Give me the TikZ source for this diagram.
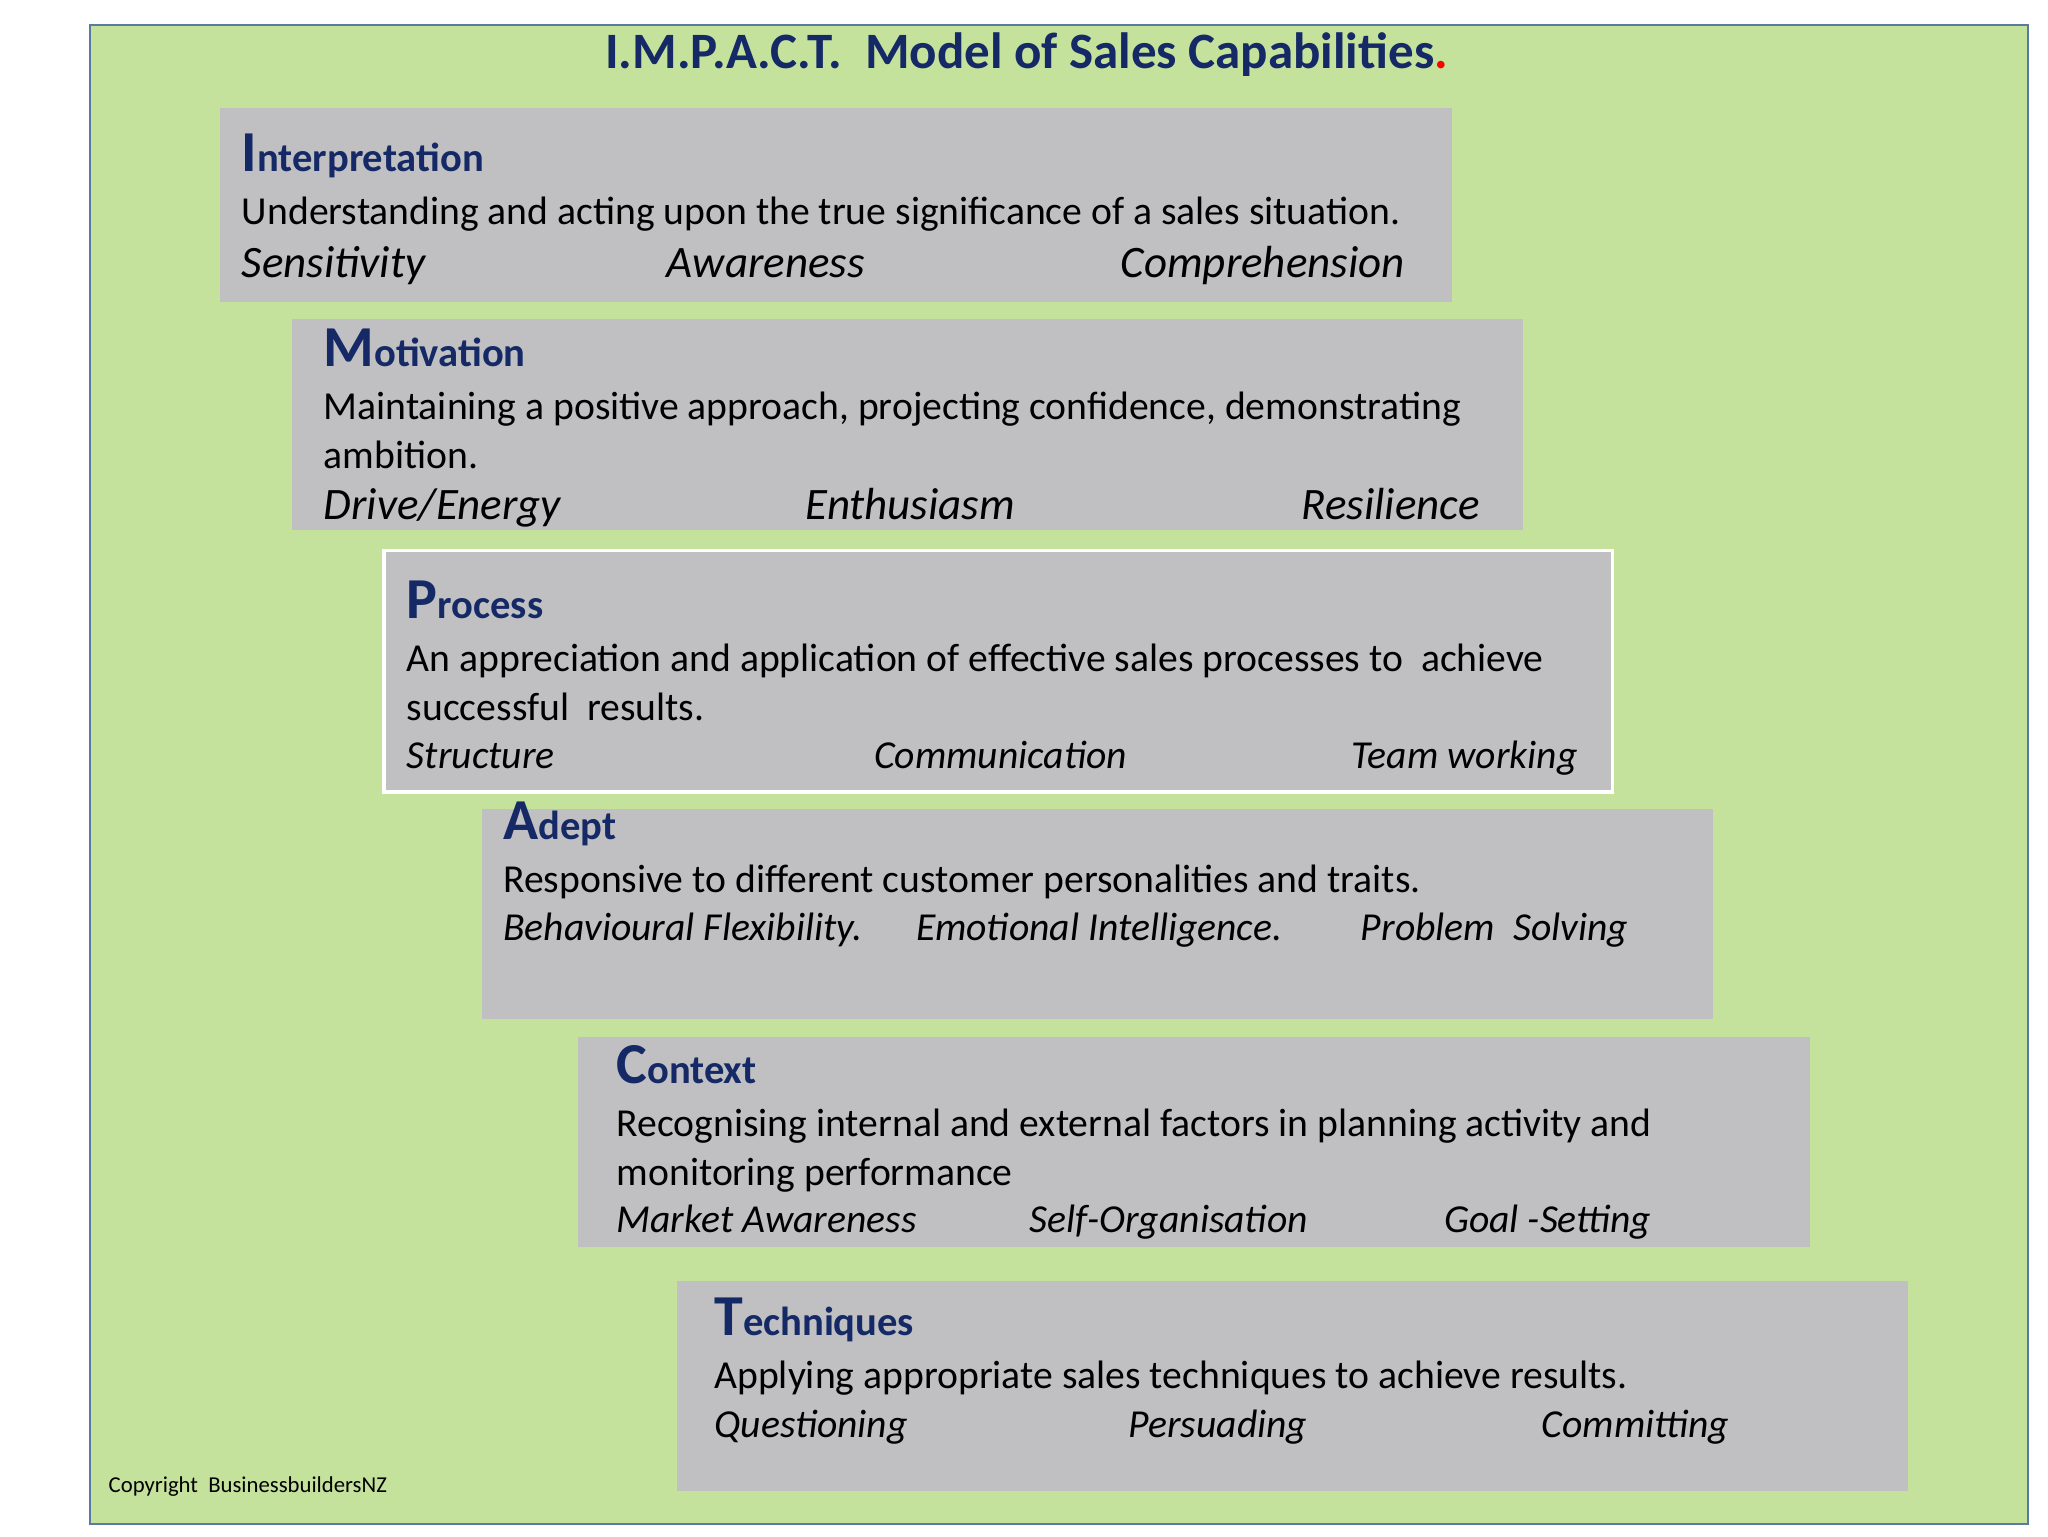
\documentclass[tikz,border=0pt]{standalone}
\usepackage{fontspec}
\setmainfont{Carlito}
\definecolor{bgg}{HTML}{C5E29D}
\definecolor{boxg}{HTML}{C0BFC1}
\definecolor{navy}{HTML}{142966}
\definecolor{frame}{HTML}{5A7BA0}
\newcommand{\BigL}[1]{{\fontsize{25}{25}\selectfont #1}}
\begin{document}
\begin{tikzpicture}[x=0.02cm,y=-0.02cm,
  bx/.style={fill=boxg,draw=none},
  hd/.style={anchor=base west,inner sep=0,text=navy,font=\fontsize{17.5}{20}\selectfont\bfseries},
  tx/.style={anchor=base west,inner sep=0,font=\fontsize{17.1}{20}\selectfont},
  it/.style={anchor=base west,inner sep=0,font=\fontsize{19.4}{22}\selectfont\itshape},
  its/.style={anchor=base west,inner sep=0,font=\fontsize{17.1}{20}\selectfont\itshape}]
\useasboundingbox (0,0) rectangle (1552,1164);
\fill[white] (0,0) rectangle (1552,1164);
\draw[fill=bgg,draw=frame,line width=0.8pt] (68,19) rectangle (1537,1155);
\node[anchor=base,inner sep=0,text=navy,font=\fontsize{22}{26}\selectfont\bfseries] (title) at (778,52) {I.M.P.A.C.T.\ \ Model of Sales Capabilities\textcolor{red}{.}};
% boxes
\fill[bx] (167,82) rectangle (1100,229);
\fill[bx] (221,242) rectangle (1154,402);
\draw[fill=boxg,draw=white,line width=1.5pt] (291,417) rectangle (1222,600);
\fill[bx] (365,613) rectangle (1298,772);
\fill[bx] (438,786) rectangle (1372,945);
\fill[bx] (513,971) rectangle (1446,1130);
% 1
\node[hd] (h1) at (183,130) {\BigL{I}nterpretation};
\node[tx] (d1) at (183,170) {Understanding and acting upon the true significance of a sales situation.};
\node[it] (a1) at (183,210) {Sensitivity};
\node[it] (b1) at (505,210) {Awareness};
\node[it] (c1) at (849,210) {Comprehension};
% 2
\node[hd] (h2) at (245,278) {\BigL{M}otivation};
\node[tx] (d2) at (245,318) {Maintaining a positive approach, projecting confidence, demonstrating};
\node[tx] (e2) at (245,355) {ambition.};
\node[it] (a2) at (245,394) {Drive/Energy};
\node[it] (b2) at (610,394) {Enthusiasm};
\node[it] (c2) at (986,394) {Resilience};
% 3
\node[hd] (h3) at (308,469) {\BigL{P}rocess};
\node[tx] (d3) at (308,509) {An appreciation and application of effective sales processes to\ \ achieve};
\node[tx] (e3) at (308,546) {successful\ \ results.};
\node[its] (a3) at (308,582) {Structure};
\node[its] (b3) at (662,582) {Communication};
\node[its] (c3) at (1024,582) {Team working};
% 4
\node[hd] (h4) at (381,636) {\BigL{A}dept};
\node[tx] (d4) at (381,676) {Responsive to different customer personalities and traits.};
\node[its] (a4) at (381,713) {Behavioural Flexibility.};
\node[its] (b4) at (694,713) {Emotional Intelligence.};
\node[its] (c4) at (1031,713) {Problem\ \ Solving};
% 5
\node[hd] (h5) at (467,821) {\BigL{C}ontext};
\node[tx] (d5) at (467,861) {Recognising internal and external factors in planning activity and};
\node[tx] (e5) at (467,898) {monitoring performance};
\node[its] (a5) at (467,934) {Market Awareness};
\node[its] (b5) at (780,934) {Self-Organisation};
\node[its] (c5) at (1094,934) {Goal -Setting};
% 6
\node[hd] (h6) at (541,1012) {\BigL{T}echniques};
\node[tx] (d6) at (541,1052) {Applying appropriate sales techniques to achieve results.};
\node[its] (a6) at (541,1089) {Questioning};
\node[its] (b6) at (855,1089) {Persuading};
\node[its] (c6) at (1168,1089) {Committing};
\node[anchor=base west,inner sep=0,font=\fontsize{9.8}{12}\selectfont] (cp) at (82,1131) {Copyright\ \ BusinessbuildersNZ};
\end{tikzpicture}
\end{document}
